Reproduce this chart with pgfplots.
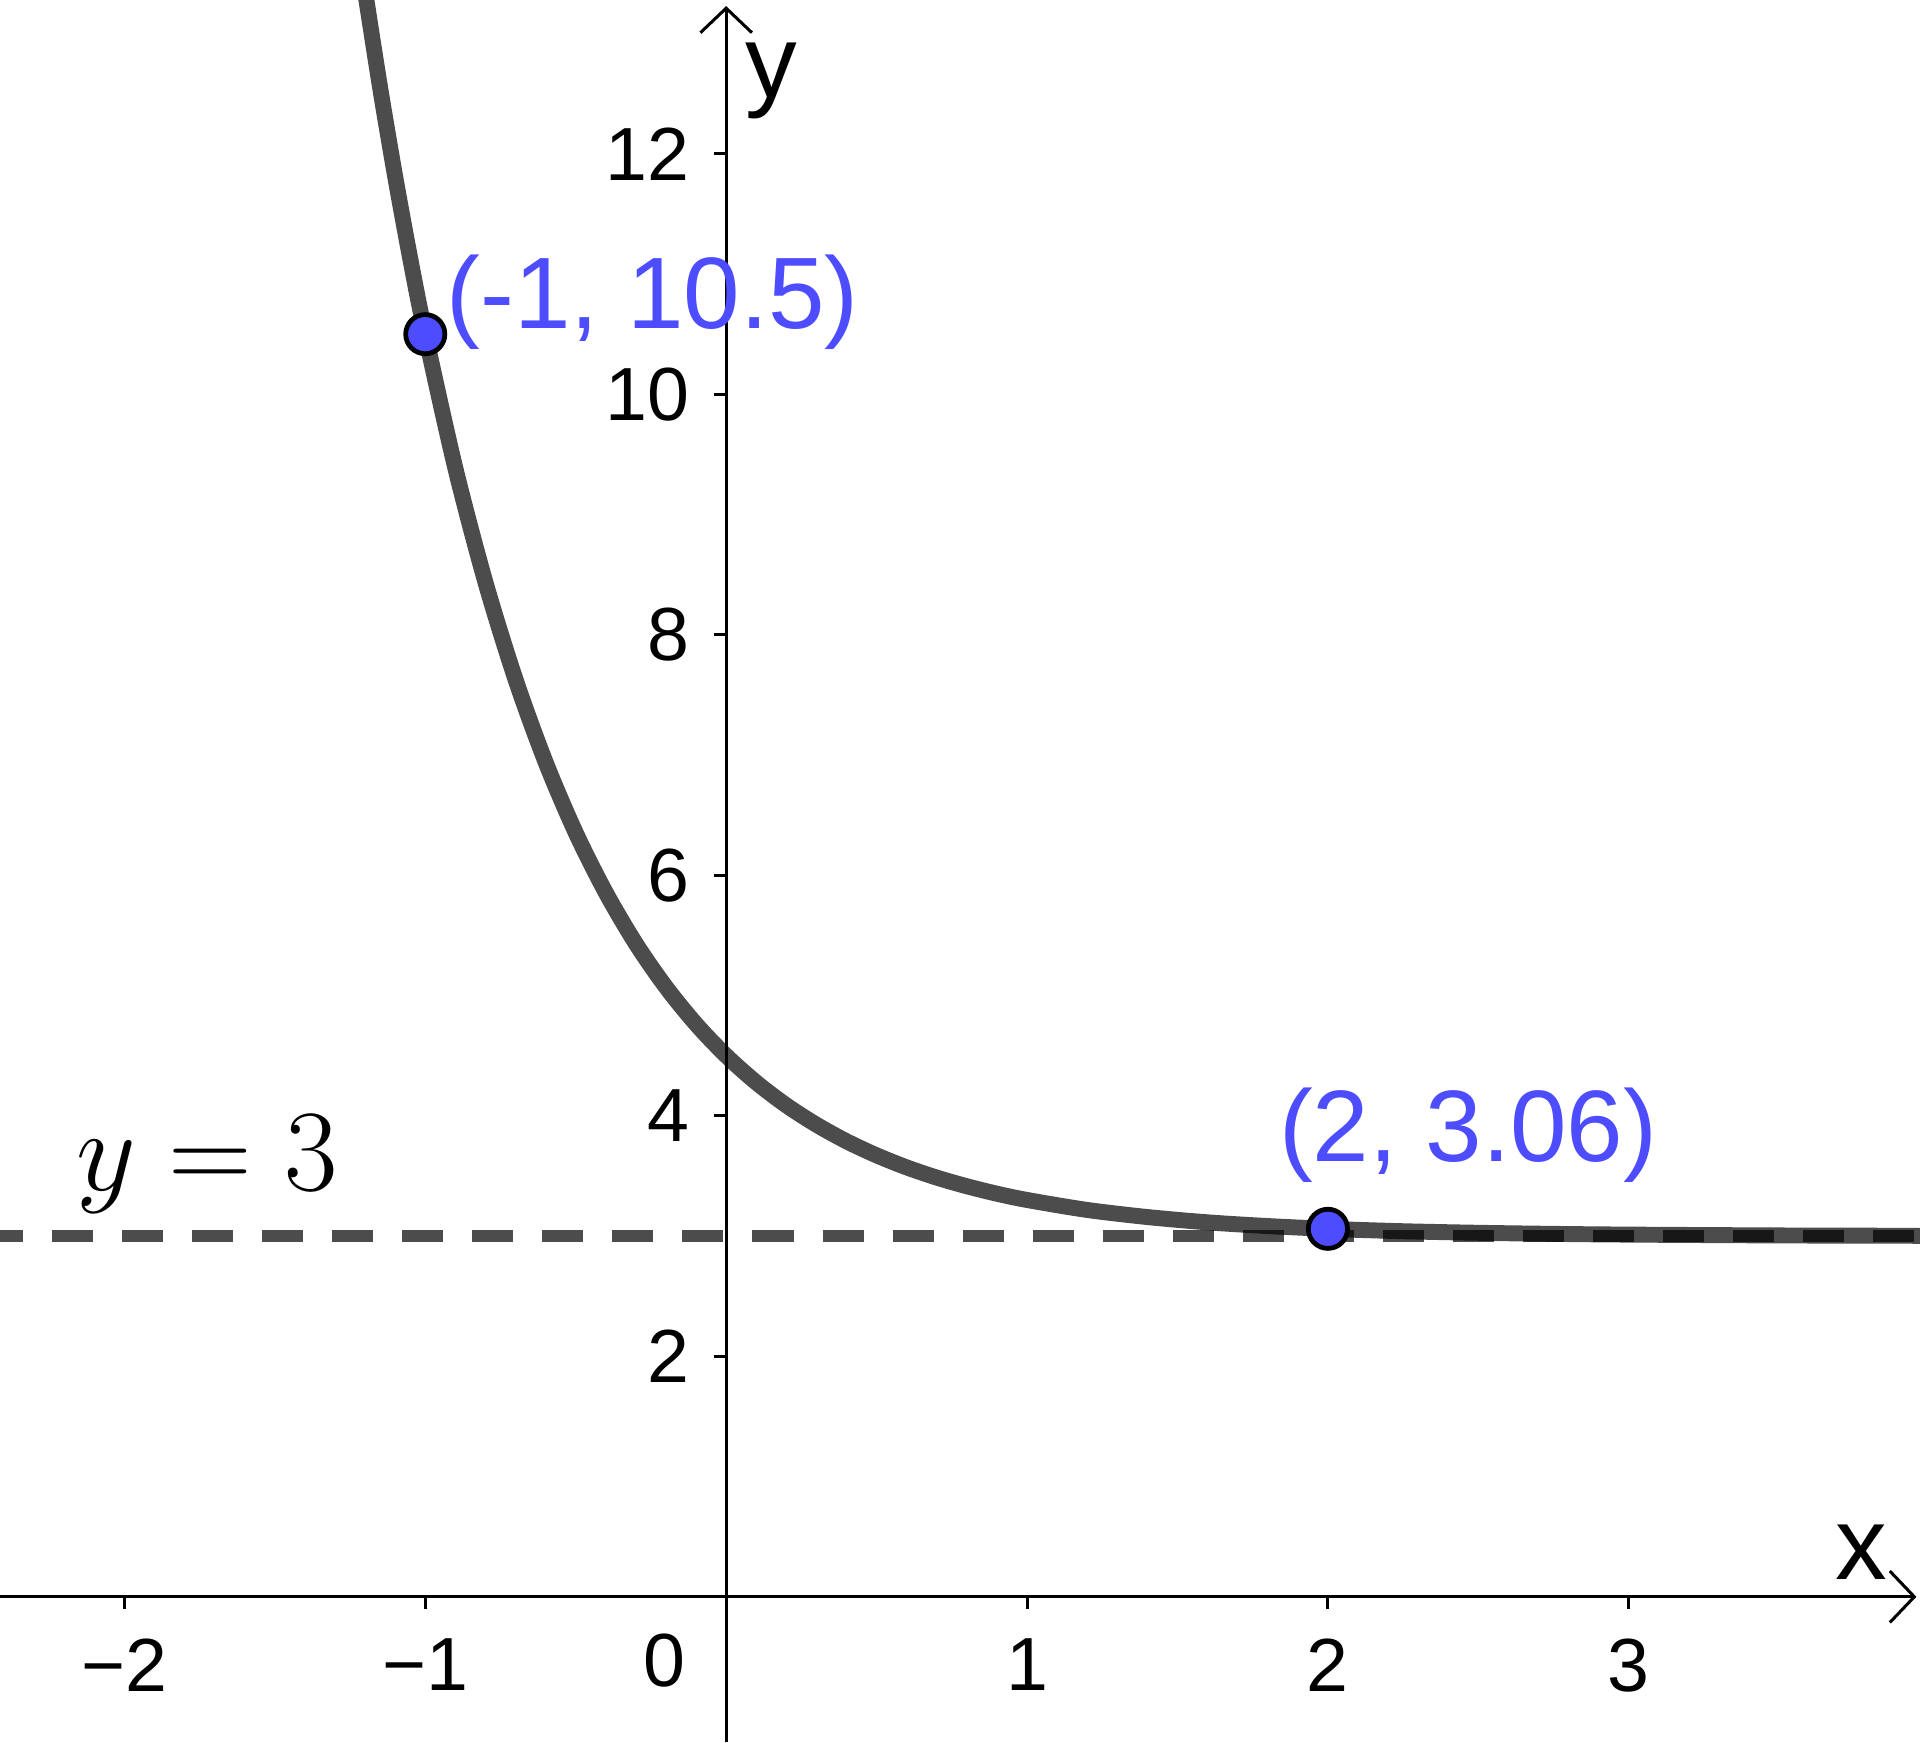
\RequirePackage{fix-cm}
\documentclass[border=0pt]{standalone}
\usepackage{pgfplots}
\pgfplotsset{compat=1.18}
\usepackage{fontspec}
\setmainfont{Liberation Sans}
\usetikzlibrary{arrows.meta}
\definecolor{ptblue}{RGB}{77,77,255}
\begin{document}
\begin{tikzpicture}
\begin{axis}[
  x=2.457cm, y=0.982cm,
  axis lines=middle,
  xmin=-2.4135, xmax=3.956,
  ymin=-1.208, ymax=13.228,
  clip=false,
  axis line style={black, line width=0.7pt, -{Straight Barb[length=0.2cm, width=0.42cm, line width=0.7pt]}},
  xtick={-2,-1,1,2,3},
  xticklabels={−2,−1,1,2,3},
  ytick={2,4,6,8,10,12},
  tick align=outside,
  major tick length=0.1cm,
  tick style={black, line width=0.7pt},
  /pgf/number format/assume math mode=true,
  ticklabel style={font=\fontsize{17.5}{20}\selectfont},
  xticklabel style={yshift=-0.12cm},
  yticklabel style={xshift=-0.08cm},
]
\addplot[black, opacity=0.7, line width=3.7pt, smooth] coordinates {
(-1.2,13.348) (-1.15,12.548) (-1.1,11.810) (-1.05,11.128) (-1.0,10.5)
(-0.9,9.385) (-0.8,8.436) (-0.7,7.628) (-0.6,6.940) (-0.5,6.354)
(-0.4,5.856) (-0.3,5.431) (-0.2,5.070) (-0.1,4.762) (0,4.5)
(0.1,4.277) (0.2,4.087) (0.3,3.926) (0.4,3.788) (0.5,3.671)
(0.6,3.571) (0.7,3.486) (0.8,3.414) (0.9,3.352) (1.0,3.3)
(1.2,3.217) (1.4,3.158) (1.6,3.114) (1.8,3.083) (2.0,3.06)
(2.25,3.040) (2.5,3.027) (2.75,3.018) (3.0,3.012) (3.5,3.005) (3.968,3.002)
};
\addplot[black, opacity=0.7, line width=2.95pt, dash pattern=on 0.335cm off 0.237cm, dash phase=0.147cm] coordinates {(-2.4135,3) (3.968,3)};
\addplot[only marks, mark=*, mark size=0.16cm, mark options={fill=ptblue, draw=black, line width=1.1pt}] coordinates {(-1,10.5) (2,3.06)};
\node[anchor=base west, inner sep=0pt, text=ptblue, font=\fontsize{23.6}{28}\selectfont] at (axis cs:-0.932,10.543) {(-1, 10.5)};
\node[anchor=base west, inner sep=0pt, text=ptblue, font=\fontsize{23.6}{28}\selectfont] at (axis cs:1.835,3.618) {(2, 3.06)};
\node[anchor=base west, inner sep=0pt, font=\fontsize{27}{32}\selectfont] at (axis cs:-2.161,3.381) {$y=3$};
\node[anchor=base west, inner sep=0pt, font=\fontsize{24}{28}\selectfont] at (axis cs:0.0611,12.464) {y};
\node[anchor=base west, inner sep=0pt, font=\fontsize{24}{28}\selectfont] at (axis cs:3.683,0.1426) {x};
\node[anchor=base, inner sep=0pt, font=\fontsize{17.5}{20}\selectfont] at (axis cs:-0.2035,-0.75) {0};
\coordinate (bbsw) at (axis cs:-2.4135,-1.208);
\coordinate (bbne) at (axis cs:3.968,13.279);
\end{axis}
\pgfresetboundingbox
\useasboundingbox (bbsw) rectangle (bbne);
\end{tikzpicture}
\end{document}
